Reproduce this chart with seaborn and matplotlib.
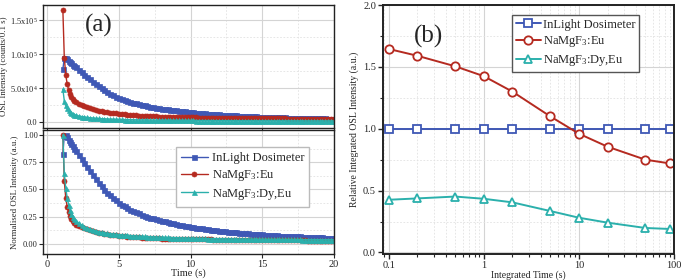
import numpy as np
import pandas as pd
import matplotlib
matplotlib.use("Agg")
import matplotlib.pyplot as plt
import matplotlib.ticker as mticker
import seaborn as sns

# ---- data (a): OSL decay curves, counts / 0.1 s (in units of 1e4) ----
time_s = np.round(np.concatenate([np.arange(1.1, 2.05, 0.1), np.arange(2.2, 20.05, 0.2)]), 1)

inlight = [7.8, 9.4, 9.45, 9.25, 9.05, 8.85, 8.65, 8.45, 8.25, 8.05,
           7.7, 7.35, 7.0, 6.65, 6.3,
           5.95, 5.62, 5.32, 5.04, 4.7,
           4.45, 4.2, 3.98, 3.77, 3.58,
           3.41, 3.25, 3.11, 2.98, 2.86,
           2.75, 2.65, 2.55, 2.46, 2.37,
           2.29, 2.21, 2.14, 2.07, 2.0,
           1.95, 1.89, 1.83, 1.78, 1.73,
           1.68, 1.63, 1.58, 1.54, 1.5,
           1.46, 1.42, 1.38, 1.34, 1.31,
           1.28, 1.25, 1.22, 1.19, 1.16,
           1.13, 1.1, 1.07, 1.05, 1.02,
           1.0, 0.98, 0.96, 0.94, 0.92,
           0.9, 0.88, 0.86, 0.84, 0.82,
           0.8, 0.785, 0.77, 0.755, 0.74,
           0.725, 0.71, 0.7, 0.69, 0.675,
           0.665, 0.655, 0.645, 0.635, 0.625,
           0.615, 0.605, 0.595, 0.585, 0.575,
           0.565, 0.555, 0.545, 0.535, 0.525]

eu = [16.5, 9.5, 7.0, 5.6, 4.8, 4.2, 3.75, 3.4, 3.1, 2.9,
      2.7, 2.5, 2.35, 2.2, 2.05,
      1.93, 1.82, 1.72, 1.63, 1.55,
      1.48, 1.41, 1.35, 1.29, 1.24,
      1.19, 1.15, 1.11, 1.07, 1.04,
      1.01, 0.98, 0.95, 0.93, 0.91,
      0.89, 0.87, 0.85, 0.83, 0.82,
      0.8, 0.79, 0.78, 0.77, 0.76,
      0.75, 0.74, 0.73, 0.72, 0.71,
      0.705, 0.7, 0.695, 0.69, 0.685,
      0.68, 0.675, 0.67, 0.665, 0.66,
      0.655, 0.65, 0.645, 0.64, 0.635,
      0.63, 0.625, 0.62, 0.615, 0.61,
      0.605, 0.6, 0.595, 0.59, 0.585,
      0.58, 0.575, 0.57, 0.566, 0.562,
      0.558, 0.554, 0.55, 0.546, 0.542,
      0.538, 0.534, 0.53, 0.526, 0.522,
      0.518, 0.514, 0.51, 0.507, 0.504,
      0.501, 0.498, 0.495, 0.492, 0.49]

dyeu = [4.85, 3.15, 2.5, 2.05, 1.75, 1.5, 1.35, 1.22, 1.12, 1.04,
        0.93, 0.84, 0.77, 0.71, 0.66,
        0.62, 0.58, 0.55, 0.52, 0.5,
        0.48, 0.46, 0.445, 0.43, 0.415,
        0.405, 0.395, 0.385, 0.375, 0.365,
        0.357, 0.349, 0.342, 0.335, 0.328,
        0.322, 0.316, 0.31, 0.305, 0.3,
        0.295, 0.29, 0.286, 0.282, 0.278,
        0.274, 0.27, 0.266, 0.262, 0.258,
        0.255, 0.252, 0.249, 0.246, 0.243,
        0.24, 0.238, 0.236, 0.234, 0.232,
        0.23, 0.228, 0.226, 0.224, 0.222,
        0.22, 0.219, 0.218, 0.217, 0.216,
        0.215, 0.214, 0.213, 0.212, 0.211,
        0.21, 0.209, 0.208, 0.207, 0.206,
        0.205, 0.204, 0.203, 0.202, 0.201,
        0.2, 0.199, 0.198, 0.197, 0.196,
        0.195, 0.194, 0.193, 0.192, 0.191,
        0.19, 0.19, 0.19, 0.19, 0.19]

# ---- data (b): relative integrated OSL intensity ----
int_time = [0.1, 0.2, 0.5, 1, 2, 5, 10, 20, 50, 90]
rel_inlight = [1.0] * 10
rel_eu = [1.645, 1.59, 1.505, 1.425, 1.30, 1.10, 0.96, 0.855, 0.75, 0.72]
rel_dyeu = [0.426, 0.437, 0.452, 0.434, 0.405, 0.335, 0.281, 0.241, 0.198, 0.19]

names = ["InLight Dosimeter", "NaMgF$_3$:Eu", "NaMgF$_3$:Dy,Eu"]
colors = ["#3F58B5", "#B52A20", "#2BB0AC"]

sns.set_theme(style="ticks")
plt.rcParams["font.family"] = ["Liberation Serif", "DejaVu Serif"]
plt.rcParams["mathtext.fontset"] = "custom"
plt.rcParams["mathtext.rm"] = "Liberation Serif"
plt.rcParams["mathtext.it"] = "Liberation Serif:italic"

decay = pd.concat([
    pd.DataFrame({"t": time_s, "counts": np.array(v) * 1e4,
                  "norm": np.array(v) / max(v), "Sample": n})
    for v, n in zip([inlight, eu, dyeu], names)
])
relative = pd.concat([
    pd.DataFrame({"t": int_time, "rel": v, "Sample": n})
    for v, n in zip([rel_inlight, rel_eu, rel_dyeu], names)
])

fig = plt.figure(figsize=(6.85, 2.8), dpi=100)
ax1 = fig.add_axes([0.0635, 0.543, 0.424, 0.439])
ax2 = fig.add_axes([0.0635, 0.093, 0.424, 0.443])
ax3 = fig.add_axes([0.559, 0.093, 0.425, 0.889])

grid_major = dict(color="#d4d4d4", lw=0.8, ls="-")
grid_minor = dict(color="#e2e2e2", lw=0.6, ls=(0, (2, 2)))


def style_axis(ax, spine_w=1.0):
    for s in ax.spines.values():
        s.set_color("#222222")
        s.set_linewidth(spine_w)
    ax.grid(True, which="major", **grid_major)
    ax.grid(True, which="minor", **grid_minor)
    ax.set_axisbelow(True)


for ax, col in [(ax1, "counts"), (ax2, "norm")]:
    sns.lineplot(data=decay, x="t", y=col, hue="Sample", style="Sample",
                 markers=["s", "o", "^"], dashes=False, palette=colors,
                 hue_order=names, style_order=names, errorbar=None,
                 legend=False, markersize=3.6, lw=1.0, ax=ax)
    for line, n in zip(ax.lines, names):
        line.set_label(n)
        line.set_markeredgecolor(line.get_color())
        line.set_markeredgewidth(0.5)
    style_axis(ax)
    ax.set_xlim(-0.25, 20)
    ax.xaxis.set_major_locator(mticker.MultipleLocator(5))
    ax.xaxis.set_minor_locator(mticker.MultipleLocator(2.5))
    ax.tick_params(axis="both", which="major", length=3, width=0.8, direction="out",
                   labelsize=6, pad=1.2)
    ax.tick_params(axis="both", which="minor", length=0)

ax1.set_ylim(-0.84e4, 1.72e5)
ax1.set_yticks([0, 5e4, 1e5, 1.5e5])
ax1.set_yticklabels(["0.0", "5.0x10$^4$", "1.0x10$^5$", "1.5x10$^5$"])
ax1.yaxis.set_minor_locator(mticker.MultipleLocator(2.5e4))
ax1.tick_params(axis="x", labelbottom=False)
ax1.set_xlabel("")
ax1.set_ylabel("OSL Intensity (counts/0.1 s)", fontsize=6.3, labelpad=1)
ax1.text(0.19, 0.83, "(a)", transform=ax1.transAxes, fontsize=18,
         ha="center", va="center")

ax2.set_ylim(-0.092, 1.046)
ax2.set_yticks([0, 0.25, 0.5, 0.75, 1.0])
ax2.set_yticklabels(["0.00", "0.25", "0.50", "0.75", "1.00"])
ax2.yaxis.set_minor_locator(mticker.MultipleLocator(0.125))
ax2.tick_params(axis="x", labelsize=7.5)
ax2.set_xlabel("Time (s)", fontsize=7.5, labelpad=0)
ax2.set_ylabel("Normalised OSL Intensity (a.u.)", fontsize=6.3, labelpad=3)
ax2.legend(loc="upper left", bbox_to_anchor=(0.455, 0.86), fontsize=9,
           frameon=True, fancybox=False, edgecolor="#bbbbbb", framealpha=1,
           handlelength=2.2, handletextpad=0.3, borderpad=0.4,
           labelspacing=0.3, borderaxespad=0)

sns.lineplot(data=relative, x="t", y="rel", hue="Sample", style="Sample",
             markers=["s", "o", "^"], dashes=False, palette=colors,
             hue_order=names, style_order=names, errorbar=None,
             legend=False, markersize=6, lw=1.4, ax=ax3)
for line, n in zip(ax3.lines, names):
    line.set_label(n)
    line.set_markeredgecolor(line.get_color())
    line.set_markerfacecolor("white")
    line.set_markeredgewidth(1.3)
style_axis(ax3, spine_w=1.4)
ax3.set_xscale("log")
ax3.set_xlim(0.087, 100)
ax3.set_ylim(-0.012, 2.0)
ax3.set_xticks([0.1, 1, 10, 100])
ax3.set_xticklabels(["0.1", "1", "10", "100"])
ax3.xaxis.set_minor_locator(mticker.LogLocator(base=10, subs=np.arange(2, 10)))
ax3.xaxis.set_minor_formatter(mticker.NullFormatter())
ax3.set_yticks([0, 0.5, 1.0, 1.5, 2.0])
ax3.set_yticklabels(["0.0", "0.5", "1.0", "1.5", "2.0"])
ax3.yaxis.set_minor_locator(mticker.MultipleLocator(0.25))
ax3.tick_params(axis="both", which="major", length=3.5, width=1.0, direction="out",
                labelsize=7.5, pad=1.5)
ax3.tick_params(axis="both", which="minor", length=2, width=0.8, direction="out")
ax3.set_xlabel("Integrated Time (s)", fontsize=7, labelpad=0)
ax3.set_ylabel("Relative Integrated OSL Intensity (a.u.)", fontsize=7, labelpad=3)
ax3.text(0.155, 0.875, "(b)", transform=ax3.transAxes, fontsize=18,
         ha="center", va="center")
ax3.legend(loc="upper left", bbox_to_anchor=(0.443, 0.96), fontsize=9,
           frameon=True, fancybox=False, edgecolor="#555555", framealpha=1,
           handlelength=2.0, handletextpad=0.2, borderpad=0.3,
           labelspacing=0.3, borderaxespad=0)

fig.savefig("out.png", dpi=100)
